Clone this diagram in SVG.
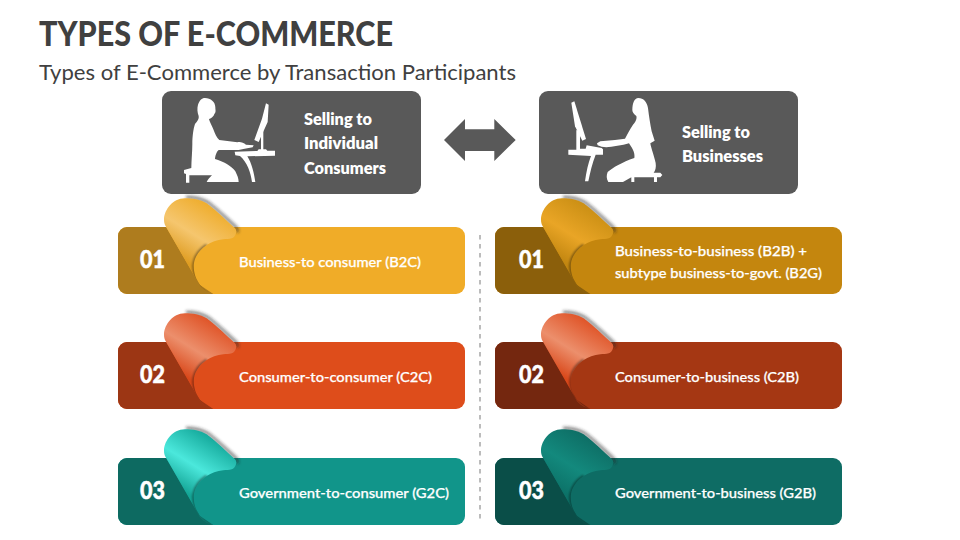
<svg xmlns="http://www.w3.org/2000/svg" width="960" height="540" viewBox="0 0 960 540">
<style>
text{font-family:Lato,"Open Sans","Liberation Sans",sans-serif}
.title{font-size:34px;font-weight:900;fill:#404040}
.sub{font-size:21px;fill:#404040}
.hd{font-size:17px;font-weight:800;fill:#fff}
.num{font-size:25px;font-weight:900;fill:#fff;stroke:#fff;stroke-width:.5}
.lb{font-size:14px;font-weight:500;fill:#fff;stroke:#fff;stroke-width:.25}
.box{fill:#595959}
.sil{fill:#fff}
.edge{fill:none;stroke:#222;stroke-width:3.500;stroke-opacity:.5}
.curl{fill:none;stroke:#000;stroke-opacity:.4;stroke-width:3}
</style>
<defs>
<path id="flap" d="M95.300 66.700C89 65.500 84 61.500 82 59L47 -2C46 -4 46 -6.500 46 -8.700C47 -17 54 -28.700 67 -28.700C75 -28.700 82 -27.500 88.700 -23.700C98 -17 109 -6 117 1.300C118.500 3 118.500 5 118 6.300C117 9.500 115.500 11 113.700 11.300C111 12 108 12 105.300 12.300C99 13 93 15 88.700 18C81 23 77 30 76 36C75 42 77 52 82 58C86 62.500 90 65.500 95.300 66.700Z"/>
<path id="dark" d="M95.300 67H9A9 9 0 0 1 0 58V9A9 9 0 0 1 9 0H48L82 58Z"/>
<path id="curl" d="M88.700 18C81 23 77 30 76 36C75 42 77 52 82 58C86 62.500 90 65.500 95.300 66.700"/>
<path id="top" d="M67 -28.700C75 -28.700 82 -27.500 88.700 -23.700C98 -17 109 -6 117 1.300C118.500 3 118.500 5 118 6.300"/>
<filter id="soft" x="-30%" y="-30%" width="160%" height="160%"><feGaussianBlur stdDeviation="1.800"/></filter>
<filter id="soft1" x="-30%" y="-30%" width="160%" height="160%"><feGaussianBlur stdDeviation="1.200"/></filter>
<linearGradient id="g1" gradientUnits="userSpaceOnUse" x1="60" y1="30" x2="91.800" y2="-21"><stop offset="0" stop-color="#DF9D22"/><stop offset=".46" stop-color="#F5C66E"/><stop offset="1" stop-color="#EFAE30"/></linearGradient>
<linearGradient id="g2" gradientUnits="userSpaceOnUse" x1="60" y1="30" x2="91.800" y2="-21"><stop offset="0" stop-color="#D9481A"/><stop offset=".46" stop-color="#EC8F6C"/><stop offset="1" stop-color="#E0562A"/></linearGradient>
<linearGradient id="g3" gradientUnits="userSpaceOnUse" x1="60" y1="30" x2="91.800" y2="-21"><stop offset="0" stop-color="#14A596"/><stop offset=".46" stop-color="#4BE8DC"/><stop offset="1" stop-color="#17AC9E"/></linearGradient>
<linearGradient id="g4" gradientUnits="userSpaceOnUse" x1="60" y1="30" x2="91.800" y2="-21"><stop offset="0" stop-color="#C28610"/><stop offset=".46" stop-color="#E9A526"/><stop offset="1" stop-color="#CC9015"/></linearGradient>
<linearGradient id="g6" gradientUnits="userSpaceOnUse" x1="60" y1="30" x2="91.800" y2="-21"><stop offset="0" stop-color="#0C7268"/><stop offset=".46" stop-color="#13897D"/><stop offset="1" stop-color="#0E6F66"/></linearGradient>
<clipPath id="flapclip"><use href="#flap"/></clipPath>
</defs>
<rect width="960" height="540" fill="#fff"/>
<g id="heading">
<text class="title" x="39" y="46" textLength="354" lengthAdjust="spacingAndGlyphs">TYPES OF E-COMMERCE</text>
<text class="sub" x="39" y="80" textLength="477" lengthAdjust="spacingAndGlyphs">Types of E-Commerce by Transaction Participants</text>
</g>
<g id="connectors">
<path d="M444 140L465 119V129.300H494.300V119L515.700 140L494.300 161V151H465V161Z" fill="#595959"/>
<path d="M480 235V521" fill="none" stroke="#A6A6A6" stroke-width="1.500" stroke-dasharray="4.500 4.500"/>
</g>
<g id="seller-consumers">
<rect class="box" x="162" y="91" width="259" height="103" rx="9"/>
<g transform="translate(160,88) scale(.3333)">
<path class="sil" d="M135 30C152 30 166 42 166 58C166 66 169 72 163 78C160 88 152 90 147 94C150 104 156 114 160 124C165 138 170 150 178 156L232 163C240 160 250 164 258 170L281 172L278 178L250 183L236 186L176 186C170 190 165 205 165 213C190 220 215 234 226 250C232 262 236 272 236 282H140C144 274 150 268 156 262H88V284H78V258L72 256V246L94 240C94 218 97 190 97 168C97 146 100 122 105 108C112 100 118 92 116 84C112 74 111 60 114 50C118 38 125 30 135 30Z"/>
<path class="sil" d="M224 191L292 189L296 184H303V130H310V184H318L322 188H345V203L262 205C275 225 282 255 286 282H276C272 252 262 224 240 204L226 202Z"/>
<path class="sil" d="M318 46L326 50L323 102L296 162L283 156L306 92Z"/>
</g>
<text class="hd" x="304" y="125" textLength="68" lengthAdjust="spacingAndGlyphs">Selling to</text>
<text class="hd" x="304" y="149" textLength="74" lengthAdjust="spacingAndGlyphs">Individual</text>
<text class="hd" x="304" y="174" textLength="82" lengthAdjust="spacingAndGlyphs">Consumers</text>
</g>
<g id="seller-businesses">
<rect class="box" x="539" y="91" width="259" height="103" rx="9"/>
<g transform="translate(535,88) scale(.3333)">
<path class="sil" d="M310 30C326 30 336 42 339 60C342 85 346 110 350 130L359 158L346 166C348 180 358 205 362 225C364 238 361 248 356 254H376L382 261L376 268H366V282H357V268H298V282H289V268L264 282H220C214 272 214 262 218 252C232 240 262 222 298 210C300 198 296 186 282 166C262 172 232 176 214 178L200 176L188 172L186 166L196 160L240 156L270 152C276 142 284 124 294 110C304 100 306 90 304 84C296 78 292 72 292 66C292 46 298 30 310 30Z"/>
<path class="sil" d="M100 185H124L124 126L135 130V182H152L155 172L200 180L204 184V200H182C172 225 165 255 160 280H150C154 250 160 225 168 204L100 200Z"/>
<path class="sil" d="M109 44L118 40L153 153L142 158L120 115Z"/>
</g>
<text class="hd" x="682" y="138" textLength="68" lengthAdjust="spacingAndGlyphs">Selling to</text>
<text class="hd" x="682" y="162" textLength="81" lengthAdjust="spacingAndGlyphs">Businesses</text>
</g>
<g id="card-b2c" transform="translate(118,227)">
<rect width="347" height="67" rx="9" fill="#F0AC28"/><use href="#dark" fill="#AE7C1E"/>
<use class="edge" href="#top" filter="url(#soft)" transform="translate(1,-1)"/><use href="#flap" fill="url(#g1)"/>
<g clip-path="url(#flapclip)"><use class="curl" href="#curl" filter="url(#soft1)"/></g>
<text class="num" x="22" y="41" textLength="25" lengthAdjust="spacingAndGlyphs">01</text>
<text class="lb" x="121" y="39.500" textLength="182" lengthAdjust="spacingAndGlyphs">Business-to consumer (B2C)</text>
</g>
<g id="card-c2c" transform="translate(118,342)">
<rect width="347" height="67" rx="9" fill="#DE4D1B"/><use href="#dark" fill="#9C3614"/>
<use class="edge" href="#top" filter="url(#soft)" transform="translate(1,-1)"/><use href="#flap" fill="url(#g2)"/>
<g clip-path="url(#flapclip)"><use class="curl" href="#curl" filter="url(#soft1)"/></g>
<text class="num" x="22" y="41" textLength="25" lengthAdjust="spacingAndGlyphs">02</text>
<text class="lb" x="121" y="39.500" textLength="193" lengthAdjust="spacingAndGlyphs">Consumer-to-consumer (C2C)</text>
</g>
<g id="card-g2c" transform="translate(118,458)">
<rect width="347" height="67" rx="9" fill="#11958A"/><use href="#dark" fill="#0D6A61"/>
<use class="edge" href="#top" filter="url(#soft)" transform="translate(1,-1)"/><use href="#flap" fill="url(#g3)"/>
<g clip-path="url(#flapclip)"><use class="curl" href="#curl" filter="url(#soft1)"/></g>
<text class="num" x="22" y="41" textLength="25" lengthAdjust="spacingAndGlyphs">03</text>
<text class="lb" x="121" y="39.500" textLength="210" lengthAdjust="spacingAndGlyphs">Government-to-consumer (G2C)</text>
</g>
<g id="card-b2b" transform="translate(495,227)">
<rect width="347" height="67" rx="9" fill="#C4860E"/><use href="#dark" fill="#8B5F0B"/>
<use class="edge" href="#top" filter="url(#soft)" transform="translate(1,-1)"/><use href="#flap" fill="url(#g4)"/>
<g clip-path="url(#flapclip)"><use class="curl" href="#curl" filter="url(#soft1)"/></g>
<text class="num" x="24" y="41" textLength="25" lengthAdjust="spacingAndGlyphs">01</text>
<text class="lb" x="120" y="29" textLength="192" lengthAdjust="spacingAndGlyphs">Business-to-business (B2B) +</text>
<text class="lb" x="120" y="51" textLength="207" lengthAdjust="spacingAndGlyphs">subtype business-to-govt. (B2G)</text>
</g>
<g id="card-c2b" transform="translate(495,342)">
<rect width="347" height="67" rx="9" fill="#A53713"/><use href="#dark" fill="#74270F"/>
<use class="edge" href="#top" filter="url(#soft)" transform="translate(1,-1)"/><use href="#flap" fill="url(#g2)"/>
<g clip-path="url(#flapclip)"><use class="curl" href="#curl" filter="url(#soft1)"/></g>
<text class="num" x="24" y="41" textLength="25" lengthAdjust="spacingAndGlyphs">02</text>
<text class="lb" x="120" y="39.500" textLength="184" lengthAdjust="spacingAndGlyphs">Consumer-to-business (C2B)</text>
</g>
<g id="card-g2b" transform="translate(495,458)">
<rect width="347" height="67" rx="9" fill="#0E6C64"/><use href="#dark" fill="#0A4E48"/>
<use class="edge" href="#top" filter="url(#soft)" transform="translate(1,-1)"/><use href="#flap" fill="url(#g6)"/>
<g clip-path="url(#flapclip)"><use class="curl" href="#curl" filter="url(#soft1)"/></g>
<text class="num" x="24" y="41" textLength="25" lengthAdjust="spacingAndGlyphs">03</text>
<text class="lb" x="120" y="39.500" textLength="201" lengthAdjust="spacingAndGlyphs">Government-to-business (G2B)</text>
</g>
</svg>
